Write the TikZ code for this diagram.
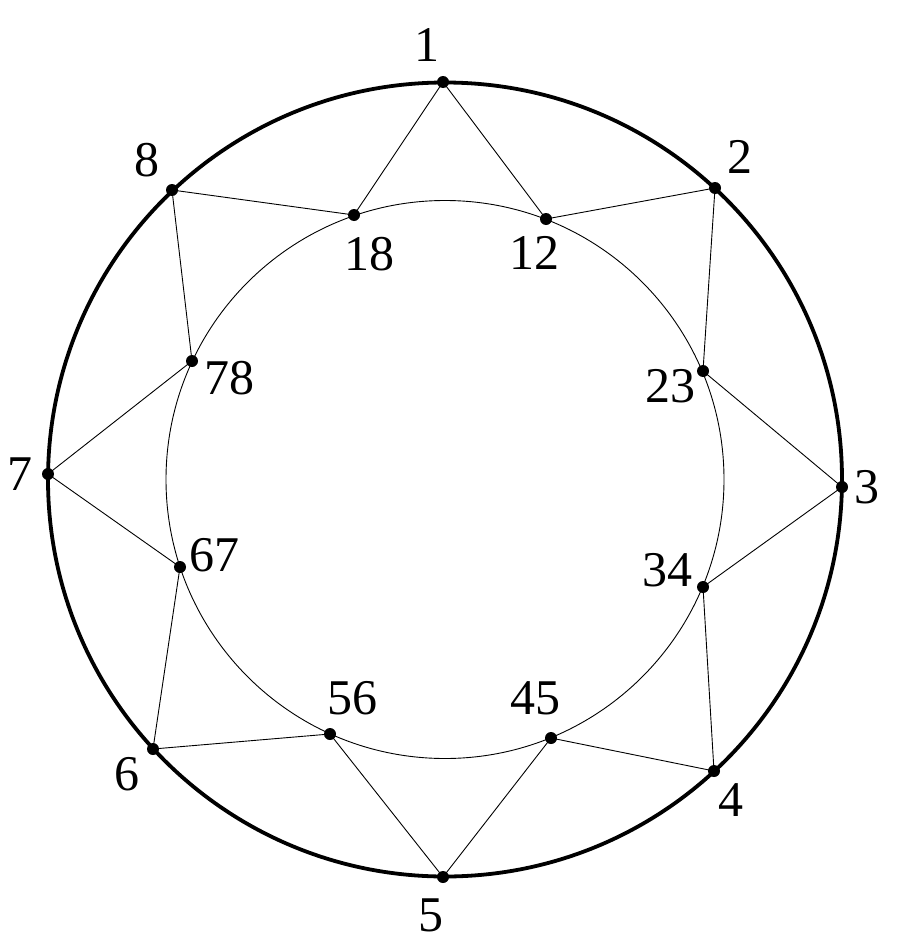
\documentclass[tikz,border=0pt]{standalone}
\usepackage{fontspec}
\setmainfont{Liberation Serif}
\begin{document}
\begin{tikzpicture}[x=1pt,y=-1pt,
  dot/.style={circle,fill=black,inner sep=0pt,minimum size=12pt},
  lbl/.style={inner sep=0pt,font=\fontsize{50}{60}\selectfont},
  edge/.style={line width=0.9pt},
  outer/.style={line width=3.8pt},
  innerc/.style={line width=0.9pt}]
\useasboundingbox (0,0) rectangle (902,950);
\coordinate (c) at (445,479.5);
\draw[outer] (c) circle[radius=397];
\draw[innerc] (c) circle[radius=279];
% outer points
\node[dot] (p1) at (443,82) {};
\node[dot] (p2) at (715,188) {};
\node[dot] (p3) at (842,487) {};
\node[dot] (p4) at (714,771) {};
\node[dot] (p5) at (443,877) {};
\node[dot] (p6) at (153,749) {};
\node[dot] (p7) at (48,474) {};
\node[dot] (p8) at (172,190) {};
% inner points
\node[dot] (p12) at (546,219) {};
\node[dot] (p23) at (703,371) {};
\node[dot] (p34) at (703,587) {};
\node[dot] (p45) at (551,738) {};
\node[dot] (p56) at (330,734) {};
\node[dot] (p67) at (180,567) {};
\node[dot] (p78) at (192,361) {};
\node[dot] (p18) at (354,215) {};
% edges
\draw[edge] (p1.center) -- (p12.center) -- (p2.center) -- (p23.center) -- (p3.center) -- (p34.center) -- (p4.center) -- (p45.center) -- (p5.center) -- (p56.center) -- (p6.center) -- (p67.center) -- (p7.center) -- (p78.center) -- (p8.center) -- (p18.center) -- (p1.center);
% labels
\node[lbl] (l1) at (427,45) {1};
\node[lbl] (l2) at (740,157) {2};
\node[lbl] (l3) at (867,487) {3};
\node[lbl] (l4) at (731,800) {4};
\node[lbl] (l5) at (431,915) {5};
\node[lbl] (l6) at (127,774) {6};
\node[lbl] (l7) at (20,474) {7};
\node[lbl] (l8) at (147,160) {8};
\node[lbl] (l12) at (534,253) {12};
\node[lbl] (l18) at (369,254) {18};
\node[lbl] (l23) at (670,386) {23};
\node[lbl] (l34) at (667,570) {34};
\node[lbl] (l45) at (535,698) {45};
\node[lbl] (l56) at (352,698) {56};
\node[lbl] (l67) at (214,555) {67};
\node[lbl] (l78) at (229,378) {78};
\end{tikzpicture}
\end{document}
